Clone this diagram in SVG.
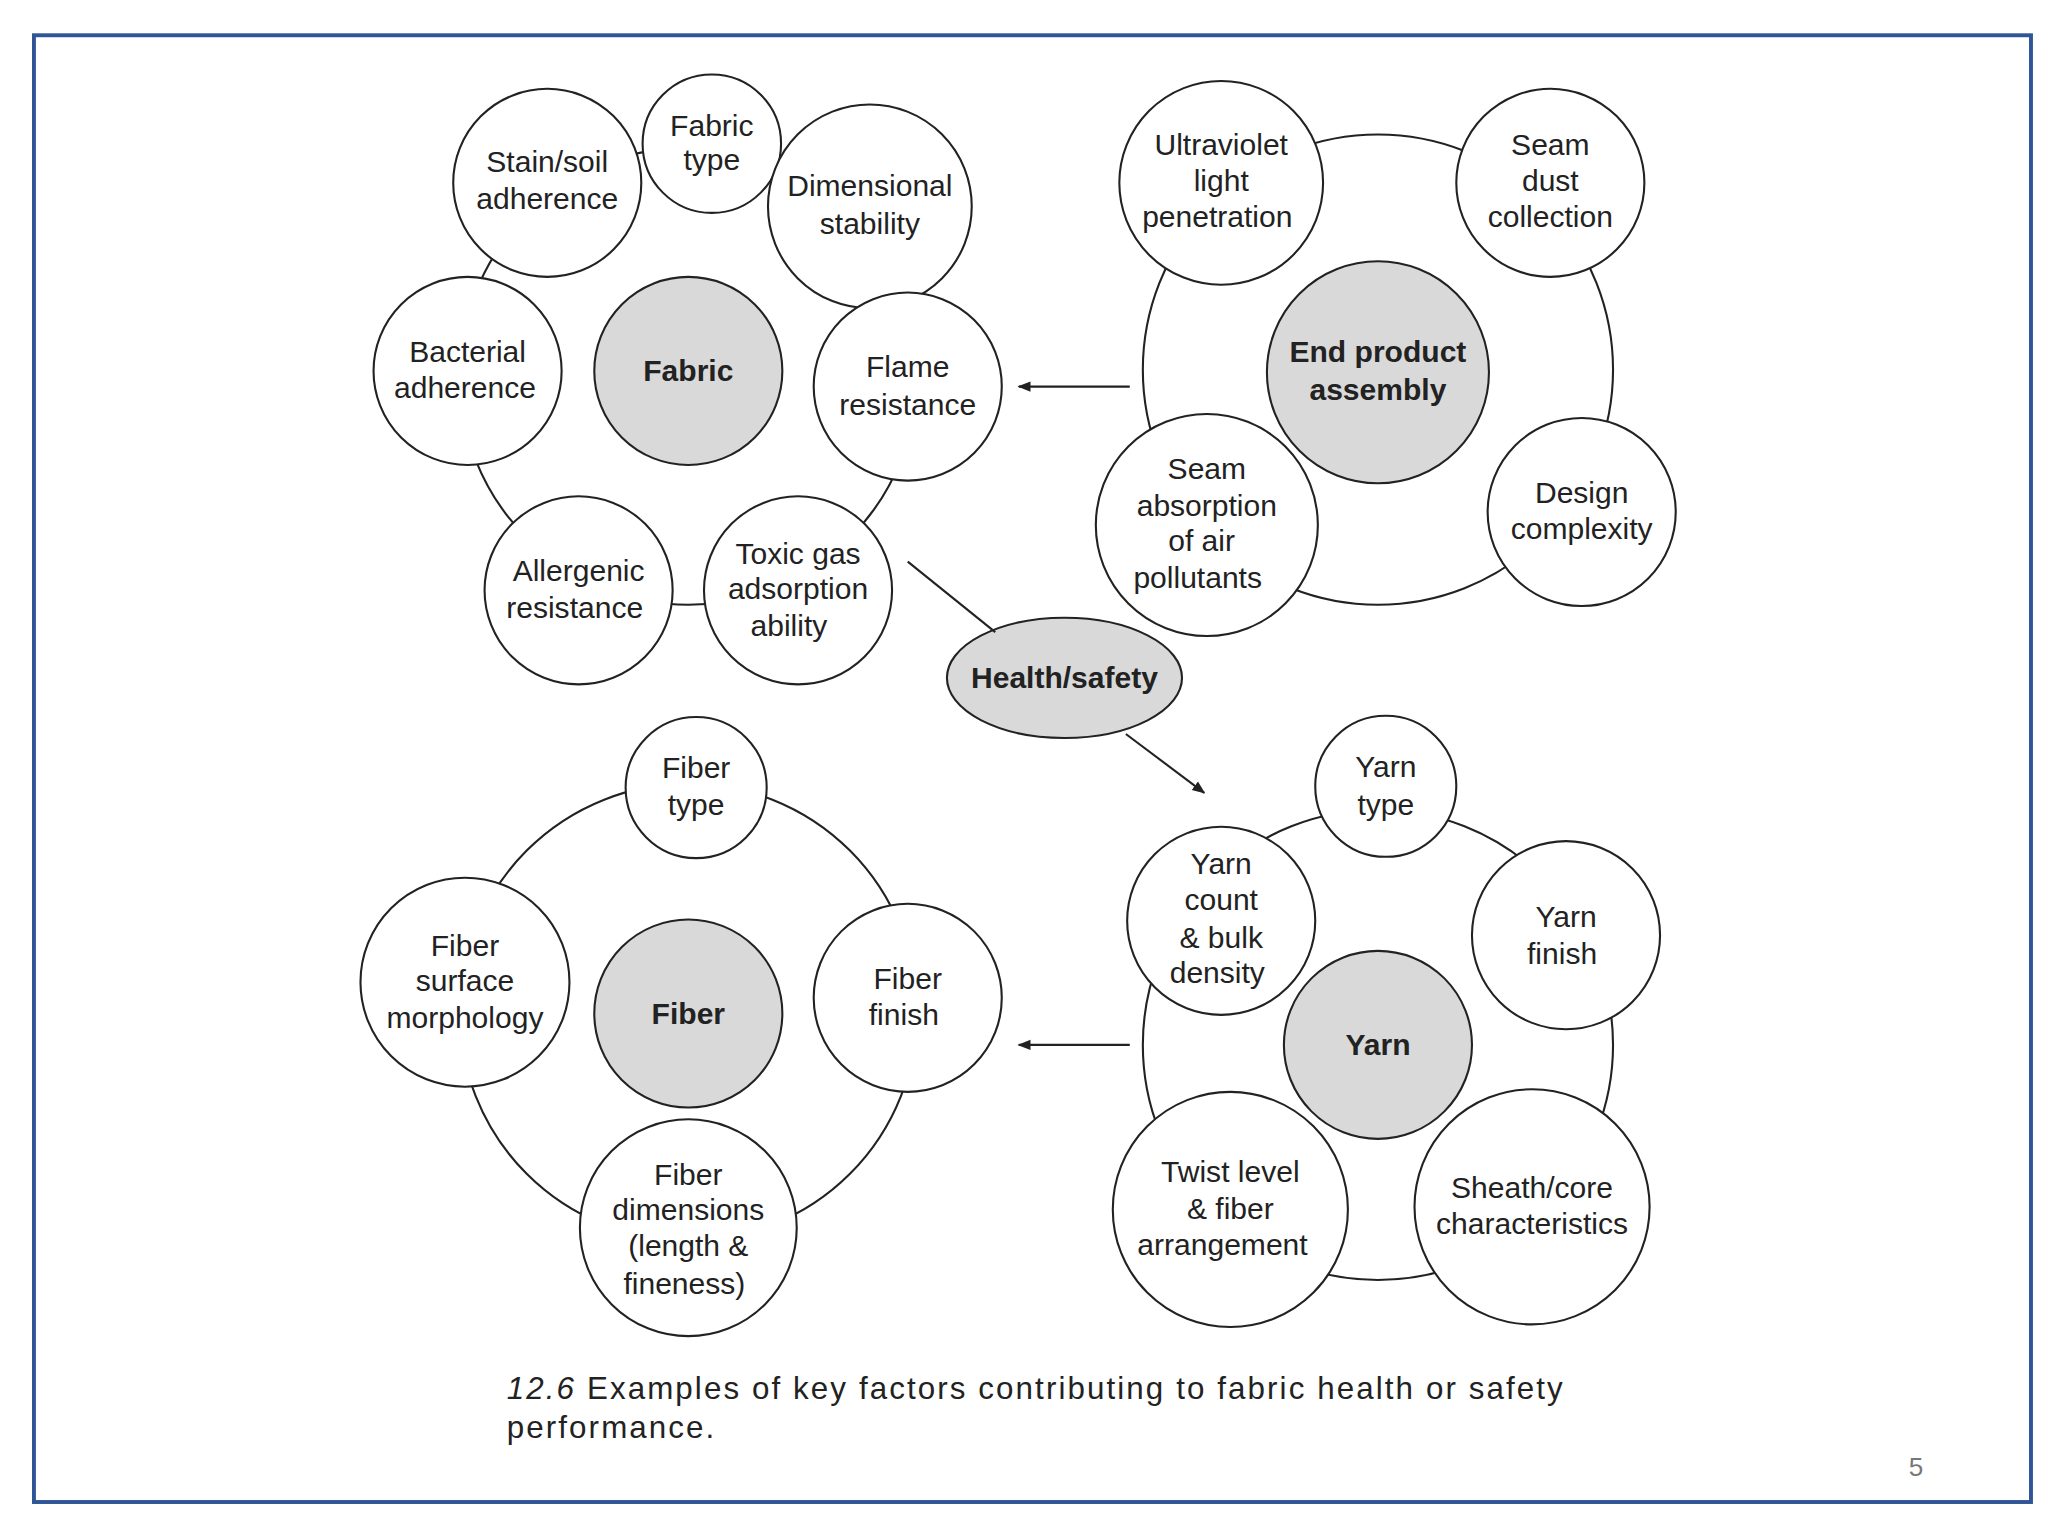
<svg xmlns="http://www.w3.org/2000/svg" width="2048" height="1536" viewBox="0 0 2048 1536">
<style>
.c{fill:#fff;stroke:#222;stroke-width:1.6}
.r{fill:none;stroke:#222;stroke-width:1.6}
.h{fill:#d9d9d9;stroke:#222;stroke-width:1.6}
text{font-family:"Liberation Sans",Arial,sans-serif;font-size:23px;fill:#222;text-anchor:middle}
.b{font-weight:bold}
.l{stroke:#222;stroke-width:1.6;fill:none}
.cap{text-anchor:start;font-size:24px;letter-spacing:1.6px}
</style>
<defs><marker id="a" viewBox="0 0 10 10" refX="9" refY="5" markerWidth="10" markerHeight="10" markerUnits="userSpaceOnUse" orient="auto"><path d="M0,1 L10,5 L0,9 z" fill="#222"/></marker></defs>
<rect width="2048" height="1536" fill="#fff"/>
<g transform="scale(1.3061,1.3061)">
<rect x="26" y="27" width="1529" height="1123" fill="none" stroke="#2f5597" stroke-width="3"/>
<g id="fabric">
<circle class="r" cx="527" cy="288" r="175"/>
<circle class="h" cx="527" cy="284" r="72"/><text class="b" x="527" y="292">Fabric</text>
<g id="stain"><circle class="c" cx="419" cy="140" r="72"/><text x="419" y="132">Stain/soil</text><text x="419" y="160">adherence</text></g>
<g id="ftype"><circle class="c" cx="545" cy="110" r="53"/><text x="545" y="104">Fabric</text><text x="545" y="130">type</text></g>
<g id="dim"><circle class="c" cx="666" cy="158" r="78"/><text x="666" y="150">Dimensional</text><text x="666" y="179">stability</text></g>
<g id="bact"><circle class="c" cx="358" cy="284" r="72"/><text x="358" y="277">Bacterial</text><text x="356" y="305">adherence</text></g>
<g id="flame"><circle class="c" cx="695" cy="296" r="72"/><text x="695" y="289">Flame</text><text x="695" y="318">resistance</text></g>
<g id="allerg"><circle class="c" cx="443" cy="452" r="72"/><text x="443" y="445">Allergenic</text><text x="440" y="473">resistance</text></g>
<g id="toxic"><circle class="c" cx="611" cy="452" r="72"/><text x="611" y="432">Toxic gas</text><text x="611" y="459">adsorption</text><text x="604" y="487">ability</text></g>
</g>
<g id="end">
<circle class="r" cx="1055" cy="283" r="180"/>
<circle class="h" cx="1055" cy="285" r="85"/><text class="b" x="1055" y="277">End product</text><text class="b" x="1055" y="306">assembly</text>
<g id="uv"><circle class="c" cx="935" cy="140" r="78"/><text x="935" y="119">Ultraviolet</text><text x="935" y="146">light</text><text x="932" y="174">penetration</text></g>
<g id="dust"><circle class="c" cx="1187" cy="140" r="72"/><text x="1187" y="119">Seam</text><text x="1187" y="146">dust</text><text x="1187" y="174">collection</text></g>
<g id="absorb"><circle class="c" cx="924" cy="402" r="85"/><text x="924" y="367">Seam</text><text x="924" y="395">absorption</text><text x="920" y="422">of air</text><text x="917" y="450">pollutants</text></g>
<g id="design"><circle class="c" cx="1211" cy="392" r="72"/><text x="1211" y="385">Design</text><text x="1211" y="413">complexity</text></g>
</g>
<g id="hs"><ellipse class="h" cx="815" cy="519" rx="90" ry="46"/><text class="b" x="815" y="527">Health/safety</text></g>
<g id="fiber">
<circle class="r" cx="527" cy="775" r="175"/>
<circle class="h" cx="527" cy="776" r="72"/><text class="b" x="527" y="784">Fiber</text>
<g id="fibtype"><circle class="c" cx="533" cy="603" r="54"/><text x="533" y="596">Fiber</text><text x="533" y="624">type</text></g>
<g id="surf"><circle class="c" cx="356" cy="752" r="80"/><text x="356" y="732">Fiber</text><text x="356" y="759">surface</text><text x="356" y="787">morphology</text></g>
<g id="ffin"><circle class="c" cx="695" cy="764" r="72"/><text x="695" y="757">Fiber</text><text x="692" y="785">finish</text></g>
<g id="fdim"><circle class="c" cx="527" cy="940" r="83"/><text x="527" y="907">Fiber</text><text x="527" y="934">dimensions</text><text x="527" y="962">(length &amp;</text><text x="524" y="991">fineness)</text></g>
</g>
<g id="yarn">
<circle class="r" cx="1055" cy="800" r="180"/>
<circle class="h" cx="1055" cy="800" r="72"/><text class="b" x="1055" y="808">Yarn</text>
<g id="ytype"><circle class="c" cx="1061" cy="602" r="54"/><text x="1061" y="595">Yarn</text><text x="1061" y="624">type</text></g>
<g id="ycount"><circle class="c" cx="935" cy="705" r="72"/><text x="935" y="669">Yarn</text><text x="935" y="697">count</text><text x="935" y="726">&amp; bulk</text><text x="932" y="753">density</text></g>
<g id="yfin"><circle class="c" cx="1199" cy="716" r="72"/><text x="1199" y="710">Yarn</text><text x="1196" y="738">finish</text></g>
<g id="twist"><circle class="c" cx="942" cy="926" r="90"/><text x="942" y="905">Twist level</text><text x="942" y="933">&amp; fiber</text><text x="936" y="961">arrangement</text></g>
<g id="sheath"><circle class="c" cx="1173" cy="924" r="90"/><text x="1173" y="917">Sheath/core</text><text x="1173" y="945">characteristics</text></g>
</g>
<g id="connectors">
<line class="l" x1="865" y1="296" x2="780" y2="296" marker-end="url(#a)"/>
<line class="l" x1="695" y1="430" x2="762" y2="484"/>
<line class="l" x1="862" y1="562" x2="922" y2="607" marker-end="url(#a)"/>
<line class="l" x1="865" y1="800" x2="780" y2="800" marker-end="url(#a)"/>
</g>
<text x="388" y="1071" class="cap"><tspan font-style="italic">12.6</tspan> Examples of key factors contributing to fabric health or safety</text>
<text x="388" y="1101" class="cap">performance.</text>
<text x="1467" y="1130" style="font-size:20px;fill:#777">5</text>
</g>
</svg>
